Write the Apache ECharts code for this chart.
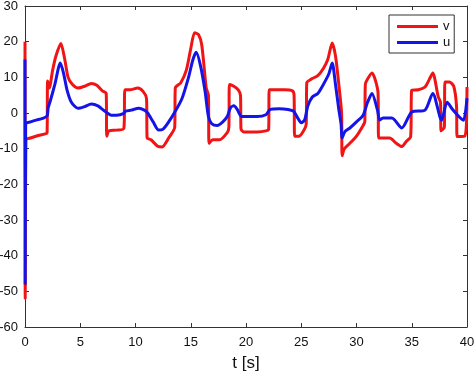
<!DOCTYPE html>
<html>
<head>
<meta charset="utf-8">
<script src="https://cdn.jsdelivr.net/npm/echarts@6/dist/echarts.min.js"></script>
<style>
  html, body { margin: 0; padding: 0; background: #fff; }
  #chart { width: 474px; height: 375px; }
</style>
</head>
<body>
<div id="chart"></div>
<script>
// v (red) samples
const tV = [0, 0.02, 0.08, 0.5, 1.2, 1.9, 2.0, 2.05, 2.2, 2.5, 2.8, 3.25, 3.6, 3.9, 4.3, 4.8, 5.4, 6.0, 6.5, 7.0, 7.35,
  7.4, 7.6, 8.3, 8.95, 9.05, 9.5, 10.2, 10.7, 11.0, 11.05, 11.4, 12.0, 12.4, 13.0, 13.55, 13.6, 14.1, 14.6, 15.0, 15.35,
  15.7, 16.0, 16.4, 16.6, 16.65, 17.0, 17.6, 18.3, 18.45, 18.5, 18.9, 19.3, 19.5, 19.55, 19.8, 21.0, 21.8, 22.05, 22.1,
  22.6, 23.5, 24.2, 24.35, 24.4, 24.8, 25.3, 25.45, 25.5, 25.9, 26.5, 27.0, 27.4, 27.8, 28.1, 28.4, 28.65, 28.7, 28.9,
  29.4, 30.0, 30.6, 30.75, 30.8, 31.0, 31.4, 31.95, 32.0, 32.5, 33.0, 33.6, 34.1, 34.5, 34.9, 35.0, 35.6, 36.2, 36.6,
  36.9, 37.4, 37.6, 37.65, 37.95, 38.0, 38.4, 38.8, 39.05, 39.1, 39.5, 39.8, 39.95, 40]
const vVals = [20, -52, -7.5, -7, -6.3, -5.8, -5.5, 9, 7, 12, 16, 19.5, 15, 10, 8, 7, 7.5, 8.3, 7.8, 6.2, 5.5,
  -6.5, -5, -4.8, -4.3, 6.5, 6.5, 7, 6, 4, -7, -7.5, -9.3, -9.5, -7, -4, 7, 8.5, 12, 18, 22.5,
  22, 19, 7, 5, -8.5, -7.5, -7.5, -5.5, -4, 8, 7.5, 6.5, 5, -4.5, -5.3, -5.3, -5, -4.5, 6.5,
  6.5, 6.5, 6.2, 5, -6.5, -6.5, -4.5, -3, 8.5, 9.5, 10.5, 12.5, 15, 19.6, 16, 8, 0, -12, -10,
  -8.5, -6.5, -3.5, -2.5, 8, 9.5, 11.2, 5.6, -7, -7, -7, -8.5, -9.4, -8, -6.6, 6.4, 6.5, 7.3, 9.5,
  11.2, 4.5, 3, -5, -4, 8.7, 8.7, 7.5, 2, -6.6, -6.6, -6.5, -3, 7.3]

// u (blue) samples
const tU = [0, 0.02, 0.06, 0.5, 1.0, 1.6, 2.0, 2.1, 2.3, 2.7, 3.2, 3.5, 3.8, 4.2, 4.8, 5.4, 6.0, 6.6, 7.1, 7.45,
  7.8, 8.3, 8.9, 9.1, 9.6, 10.3, 10.8, 11.1, 11.6, 12.1, 12.5, 13.0, 13.6, 14.2, 14.8, 15.2, 15.5, 15.9, 16.3, 16.6,
  16.9, 17.4, 17.9, 18.3, 18.6, 18.9, 19.2, 19.6, 20.2, 21.0, 21.8, 22.2, 23.0, 23.8, 24.3, 24.7, 25.0, 25.3, 25.6,
  26.0, 26.5, 27.0, 27.5, 27.8, 28.1, 28.4, 28.6, 28.7, 28.95, 29.4, 30.0, 30.6, 31.0, 31.4, 31.9, 32.1, 32.4, 33.2,
  34.1, 35.0, 36.2, 36.9, 37.7, 38.2, 38.7, 39.4, 39.7, 40]
const uVals = [15, -48, -3, -2.5, -2, -1.5, -0.8, 1.5, 3.5, 8, 14, 11, 6.5, 3, 1.3, 1.8, 2.5, 2, 0.8, 0,
  -0.6, -0.6, -0.2, 0.5, 0.8, 1.3, 0.8, 0, -2.5, -4.8, -4.5, -2.5, 0.5, 4, 10, 15, 17, 13, 6, -1,
  -3, -3.5, -2.5, -1, 1.5, 2, 1, -1, -1, -1, -0.5, 1, 1.2, 1, 0.5, -1.5, -2.7, -2, 2,
  4.5, 5.5, 8, 11, 14, 8, 1, -3, -7, -5.2, -4.2, -2.5, -0.6, 3, 5.5, 0.8, -2, -1.4, -1.4,
  -4.2, 0.3, 0.8, 5.5, -2, 3, 1, -1.4, -2, 4.2]

const xTicks = [0, 40, 5]
const yTicks = [-60, 30, 10]

const pairs = (ts, vs) => ts.map((t, i) => [t, vs[i]])

const chart = echarts.init(document.getElementById('chart'))
const axisLine = { show: true, onZero: false, lineStyle: { color: '#333', width: 1 } }
const tick = { show: true, inside: true, length: 4, lineStyle: { color: '#333' } }
const label = { color: '#111', fontSize: 13, fontFamily: 'Liberation Sans, Arial' }

chart.setOption({
  animation: false,
  grid: { left: 25, right: 7, top: 6, bottom: 48, containLabel: false, outerBoundsMode: 'none' },
  legend: {
    orient: 'vertical',
    left: 389,
    top: 15,
    backgroundColor: '#fff',
    borderColor: '#333',
    borderWidth: 1,
    borderRadius: 0,
    padding: [5, 4, 4, 8],
    itemGap: 3,
    itemWidth: 41,
    itemHeight: 3,
    icon: 'rect',
    textStyle: { fontSize: 13, color: '#111', fontFamily: 'Liberation Sans, Arial' },
    data: ['v', 'u']
  },
  xAxis: [{
    type: 'value',
    min: xTicks[0], max: xTicks[1], interval: xTicks[2],
    name: 't [s]',
    nameLocation: 'middle',
    nameGap: 28,
    nameTextStyle: { fontSize: 17, color: '#111', fontFamily: 'Liberation Sans, Arial' },
    axisLine, axisTick: tick,
    axisLabel: Object.assign({ margin: 9 }, label),
    splitLine: { show: false }
  }, {
    type: 'value', position: 'top',
    min: xTicks[0], max: xTicks[1], interval: xTicks[2],
    axisLine, axisTick: tick, axisLabel: { show: false }, splitLine: { show: false }
  }],
  yAxis: [{
    type: 'value',
    min: yTicks[0], max: yTicks[1], interval: yTicks[2],
    axisLine, axisTick: tick,
    axisLabel: Object.assign({ margin: 7 }, label),
    splitLine: { show: false }
  }, {
    type: 'value', position: 'right',
    min: yTicks[0], max: yTicks[1], interval: yTicks[2],
    axisLine, axisTick: tick, axisLabel: { show: false }, splitLine: { show: false }
  }],
  series: [{
    name: 'v',
    type: 'line',
    data: pairs(tV, vVals),
    showSymbol: false,
    smooth: 0.25,
    itemStyle: { color: '#f01414' },
    lineStyle: { color: '#f01414', width: 3 },
    z: 2
  }, {
    name: 'u',
    type: 'line',
    data: pairs(tU, uVals),
    showSymbol: false,
    smooth: 0.25,
    itemStyle: { color: '#1414e6' },
    lineStyle: { color: '#1414e6', width: 3 },
    z: 3
  }]
})
</script>
</body>
</html>
